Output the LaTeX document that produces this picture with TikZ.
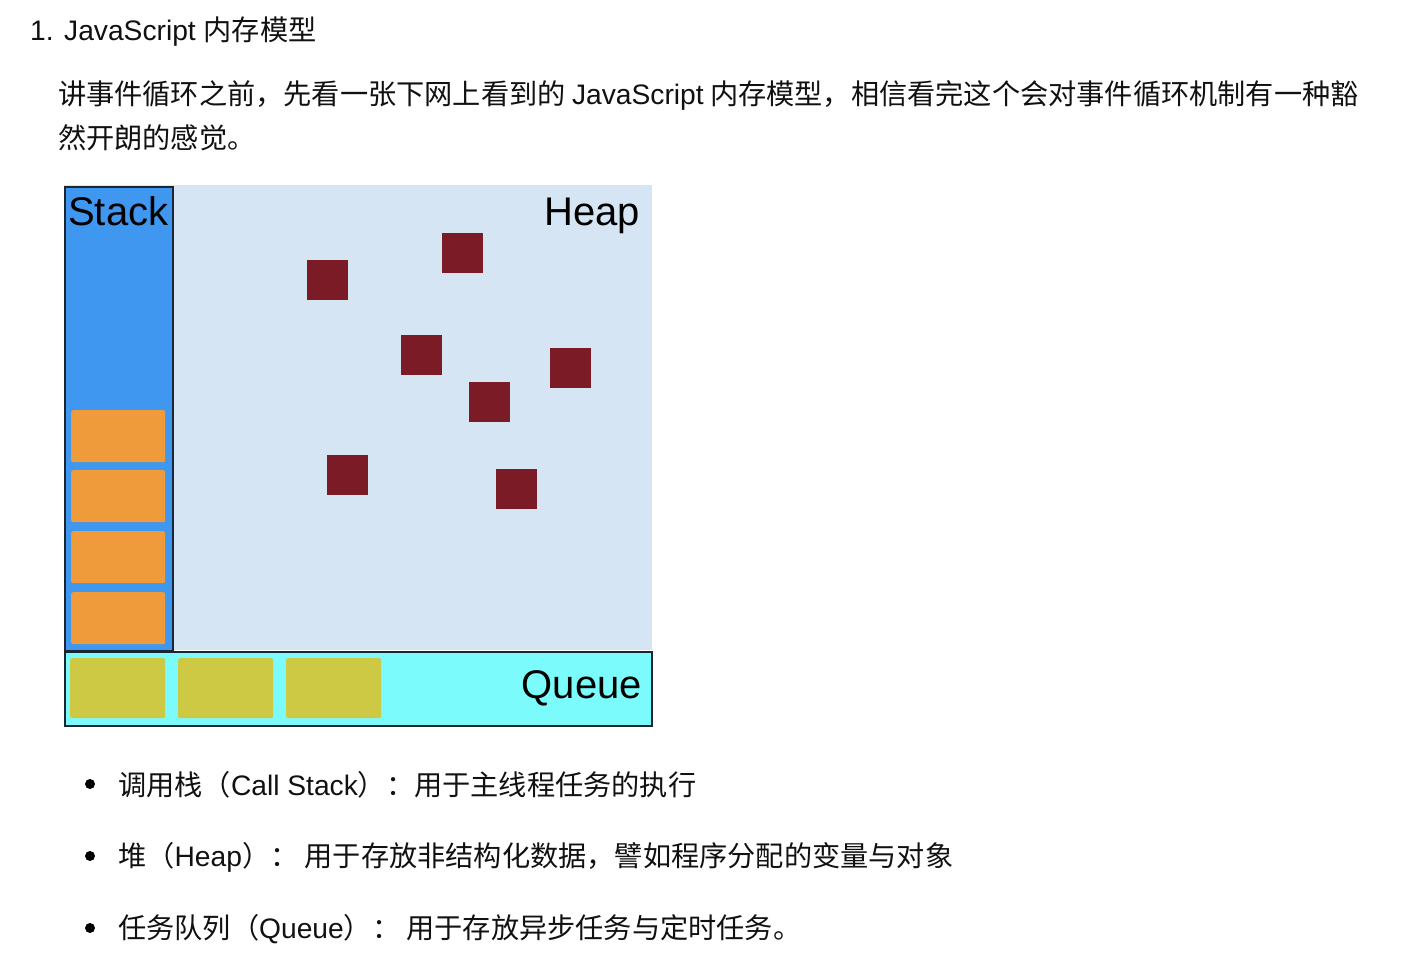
\documentclass[tikz,border=0pt]{standalone}
\usepackage{fontspec}
\setmainfont{Liberation Sans}
\newfontfamily\cjk{Noto Sans CJK SC}
\definecolor{heapbg}{HTML}{D5E5F3}
\definecolor{stackbg}{HTML}{3F97EF}
\definecolor{frameor}{HTML}{EF9A3B}
\definecolor{queuebg}{HTML}{7BFBFB}
\definecolor{taskyel}{HTML}{CEC944}
\definecolor{objred}{HTML}{7B1B26}
\definecolor{edge}{HTML}{1A2633}
\definecolor{txt}{HTML}{111111}
\begin{document}
\begin{tikzpicture}[x=1pt,y=-1pt,
  body/.style={anchor=west,inner sep=0pt,text=txt,font=\fontsize{28.2}{32}\selectfont},
  lbl/.style={inner sep=0pt,text=black,font=\fontsize{40}{44}\selectfont},
  frame/.style={fill=frameor,draw=none,rounded corners=2pt},
  task/.style={fill=taskyel,draw=none,rounded corners=2pt},
  obj/.style={fill=objred,draw=none,minimum width=41pt,minimum height=40pt,inner sep=0pt},
  dot/.style={circle,fill=black,inner sep=0pt,minimum size=10pt}]
\useasboundingbox (0,0) rectangle (1406,970);
\fill[white] (0,0) rectangle (1406,970);
% text
\node[body] (title) at (30,32) {1. JavaScript {\cjk 内存模型}};
\node[body] (p1) at (58,95) {\cjk 讲事件循环之前，先看一张下网上看到的 {\rmfamily JavaScript} 内存模型，相信看完这个会对事件循环机制有一种豁};
\node[body] (p2) at (58,138) {\cjk 然开朗的感觉。};
% heap
\node[fill=heapbg,draw=none,anchor=north west,minimum width=588pt,minimum height=465pt,inner sep=0pt] (heap) at (64,185) {};
\node[lbl,anchor=base east] (heaplbl) at (640,225) {Heap};
% stack
\node[fill=stackbg,draw=edge,line width=2.2pt,anchor=north west,minimum width=108pt,minimum height=464pt,inner sep=0pt] (stack) at (64,186) {};
\node[lbl,anchor=base west] (stacklbl) at (68,225) {Stack};
\node[frame,anchor=north west,minimum width=94pt,minimum height=52pt] (f1) at (71,410) {};
\node[frame,anchor=north west,minimum width=94pt,minimum height=52pt] (f2) at (71,470) {};
\node[frame,anchor=north west,minimum width=94pt,minimum height=52pt] (f3) at (71,531) {};
\node[frame,anchor=north west,minimum width=94pt,minimum height=52pt] (f4) at (71,592) {};
% queue
\node[fill=queuebg,draw=edge,line width=2pt,anchor=north west,minimum width=587pt,minimum height=74pt,inner sep=0pt] (queue) at (64,651) {};
\node[lbl,anchor=base east] (queuelbl) at (642,698) {Queue};
\node[task,anchor=north west,minimum width=95pt,minimum height=60pt] (t1) at (70,658) {};
\node[task,anchor=north west,minimum width=95pt,minimum height=60pt] (t2) at (178,658) {};
\node[task,anchor=north west,minimum width=95pt,minimum height=60pt] (t3) at (286,658) {};
% heap objects
\node[obj,anchor=north west] (o1) at (307,260) {};
\node[obj,anchor=north west] (o2) at (442,233) {};
\node[obj,anchor=north west] (o3) at (401,335) {};
\node[obj,anchor=north west] (o4) at (550,348) {};
\node[obj,anchor=north west] (o5) at (469,382) {};
\node[obj,anchor=north west] (o6) at (327,455) {};
\node[obj,anchor=north west] (o7) at (496,469) {};
% bullets
\node[dot] (d1) at (90,784) {};
\node[dot] (d2) at (90,856) {};
\node[dot] (d3) at (90,928) {};
\node[body] (b1) at (118,785) {{\cjk 调用栈（}Call Stack{\cjk ）：用于主线程任务的执行}};
\node[body] (b2) at (118,857) {{\cjk 堆（}Heap{\cjk ）： 用于存放非结构化数据，譬如程序分配的变量与对象}};
\node[body] (b3) at (118,929) {{\cjk 任务队列（}Queue{\cjk ）： 用于存放异步任务与定时任务。}};
\end{tikzpicture}
\end{document}
